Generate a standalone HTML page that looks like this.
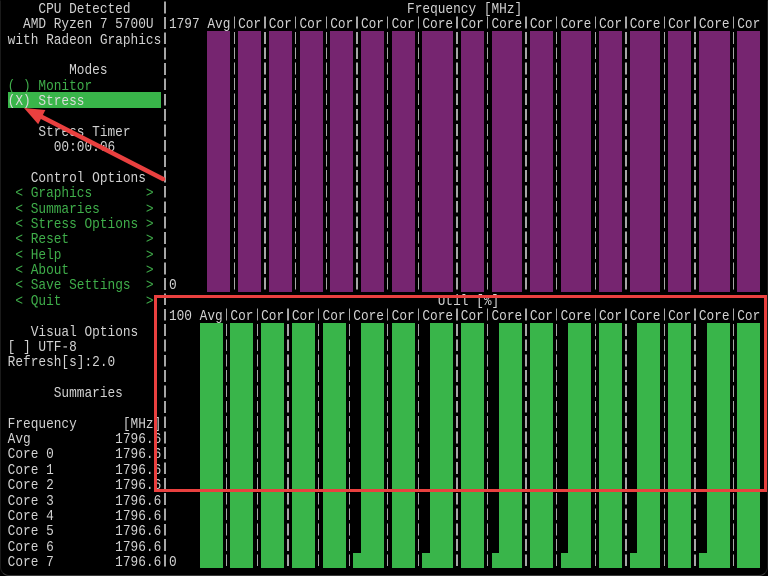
<!DOCTYPE html>
<html><head><meta charset="utf-8"><style>
html,body{margin:0;padding:0;background:#000;}
#s{position:relative;width:768px;height:576px;overflow:hidden;background:#000;}
.t{position:absolute;font-family:"Liberation Mono","DejaVu Sans Mono",monospace;font-size:12.8px;line-height:15.36px;height:15.36px;white-space:pre;color:#d2d2d2;transform-origin:0 0;transform:scaleY(1.18);}
.g{color:#3fae4a;}
.bp{position:absolute;background:#762570;top:30.72px;height:261.12px;}
.bg{position:absolute;background:#39b54a;top:322.56px;height:245.76px;}
.bgl{position:absolute;background:#39b54a;top:552.96px;height:15.36px;width:7.68px;}
.v{position:absolute;width:1.3px;background:repeating-linear-gradient(to bottom,transparent 0px,transparent 1.6px,#a6a6a6 1.6px,#a6a6a6 13.4px,transparent 13.4px,transparent 15.36px);}
.vf{top:15.36px;height:276.48px;}
.vu{top:307.2px;height:261.12px;}
</style></head><body><div id="s">

<!-- highlight bar -->
<div style="position:absolute;left:7.68px;top:92.16px;width:153.6px;height:15.36px;background:#39b54a;"></div>

<!-- frequency bars -->
<div class="bp" style="left:207.36px;width:23.04px"></div>
<div class="bp" style="left:238.08px;width:23.04px"></div>
<div class="bp" style="left:268.8px;width:23.04px"></div>
<div class="bp" style="left:299.52px;width:23.04px"></div>
<div class="bp" style="left:330.24px;width:23.04px"></div>
<div class="bp" style="left:360.96px;width:23.04px"></div>
<div class="bp" style="left:391.68px;width:23.04px"></div>
<div class="bp" style="left:422.4px;width:30.72px"></div>
<div class="bp" style="left:460.8px;width:23.04px"></div>
<div class="bp" style="left:491.52px;width:30.72px"></div>
<div class="bp" style="left:529.92px;width:23.04px"></div>
<div class="bp" style="left:560.64px;width:30.72px"></div>
<div class="bp" style="left:599.04px;width:23.04px"></div>
<div class="bp" style="left:629.76px;width:30.72px"></div>
<div class="bp" style="left:668.16px;width:23.04px"></div>
<div class="bp" style="left:698.88px;width:30.72px"></div>
<div class="bp" style="left:737.28px;width:23.04px"></div>

<!-- util bars -->
<div class="bg" style="left:199.68px;width:23.04px"></div>
<div class="bg" style="left:230.4px;width:23.04px"></div>
<div class="bg" style="left:261.12px;width:23.04px"></div>
<div class="bg" style="left:291.84px;width:23.04px"></div>
<div class="bg" style="left:322.56px;width:23.04px"></div>
<div class="bg" style="left:360.96px;width:23.04px"></div><div class="bgl" style="left:353.28px"></div>
<div class="bg" style="left:391.68px;width:23.04px"></div>
<div class="bg" style="left:430.08px;width:23.04px"></div><div class="bgl" style="left:422.4px"></div>
<div class="bg" style="left:460.8px;width:23.04px"></div>
<div class="bg" style="left:499.2px;width:23.04px"></div><div class="bgl" style="left:491.52px"></div>
<div class="bg" style="left:529.92px;width:23.04px"></div>
<div class="bg" style="left:568.32px;width:23.04px"></div><div class="bgl" style="left:560.64px"></div>
<div class="bg" style="left:599.04px;width:23.04px"></div>
<div class="bg" style="left:637.44px;width:23.04px"></div><div class="bgl" style="left:629.76px"></div>
<div class="bg" style="left:668.16px;width:23.04px"></div>
<div class="bg" style="left:706.56px;width:23.04px"></div><div class="bgl" style="left:698.88px"></div>
<div class="bg" style="left:737.28px;width:23.04px"></div>

<!-- axis line -->
<div class="v" style="left:164.47px;top:0;height:568.32px"></div>

<!-- freq separators -->
<div class="v vf" style="left:233.59px"></div>
<div class="v vf" style="left:264.31px"></div>
<div class="v vf" style="left:295.03px"></div>
<div class="v vf" style="left:325.75px"></div>
<div class="v vf" style="left:356.47px"></div>
<div class="v vf" style="left:387.19px"></div>
<div class="v vf" style="left:417.91px"></div>
<div class="v vf" style="left:456.31px"></div>
<div class="v vf" style="left:487.03px"></div>
<div class="v vf" style="left:525.43px"></div>
<div class="v vf" style="left:556.15px"></div>
<div class="v vf" style="left:594.55px"></div>
<div class="v vf" style="left:625.27px"></div>
<div class="v vf" style="left:663.67px"></div>
<div class="v vf" style="left:694.39px"></div>
<div class="v vf" style="left:732.79px"></div>

<!-- util separators -->
<div class="v vu" style="left:225.91px"></div>
<div class="v vu" style="left:256.63px"></div>
<div class="v vu" style="left:287.35px"></div>
<div class="v vu" style="left:318.07px"></div>
<div class="v vu" style="left:348.79px"></div>
<div class="v vu" style="left:387.19px"></div>
<div class="v vu" style="left:417.91px"></div>
<div class="v vu" style="left:456.31px"></div>
<div class="v vu" style="left:487.03px"></div>
<div class="v vu" style="left:525.43px"></div>
<div class="v vu" style="left:556.15px"></div>
<div class="v vu" style="left:594.55px"></div>
<div class="v vu" style="left:625.27px"></div>
<div class="v vu" style="left:663.67px"></div>
<div class="v vu" style="left:694.39px"></div>
<div class="v vu" style="left:732.79px"></div>

<!-- left panel text -->
<div class="t" style="left:38.4px;top:0px">CPU Detected</div>
<div class="t" style="left:23.04px;top:15.36px">AMD Ryzen 7 5700U</div>
<div class="t" style="left:7.68px;top:30.72px">with Radeon Graphics</div>
<div class="t" style="left:69.12px;top:61.44px">Modes</div>
<div class="t g" style="left:7.68px;top:76.8px">( ) Monitor</div>
<div class="t" style="left:7.68px;top:92.16px;color:#dcdcdc">(X) Stress</div>
<div class="t" style="left:38.4px;top:122.88px">Stress Timer</div>
<div class="t" style="left:53.76px;top:138.24px">00:00:06</div>
<div class="t" style="left:30.72px;top:168.96px">Control Options</div>
<div class="t g" style="left:15.36px;top:184.32px">&lt; Graphics       &gt;</div>
<div class="t g" style="left:15.36px;top:199.68px">&lt; Summaries      &gt;</div>
<div class="t g" style="left:15.36px;top:215.04px">&lt; Stress Options &gt;</div>
<div class="t g" style="left:15.36px;top:230.4px">&lt; Reset          &gt;</div>
<div class="t g" style="left:15.36px;top:245.76px">&lt; Help           &gt;</div>
<div class="t g" style="left:15.36px;top:261.12px">&lt; About          &gt;</div>
<div class="t g" style="left:15.36px;top:276.48px">&lt; Save Settings  &gt;</div>
<div class="t g" style="left:15.36px;top:291.84px">&lt; Quit           &gt;</div>
<div class="t" style="left:30.72px;top:322.56px">Visual Options</div>
<div class="t" style="left:7.68px;top:337.92px">[ ] UTF-8</div>
<div class="t" style="left:7.68px;top:353.28px">Refresh[s]:2.0</div>
<div class="t" style="left:53.76px;top:384px">Summaries</div>
<div class="t" style="left:7.68px;top:414.72px">Frequency      [MHz]</div>
<div class="t" style="left:7.68px;top:430.08px">Avg           1796.6</div>
<div class="t" style="left:7.68px;top:445.44px">Core 0        1796.6</div>
<div class="t" style="left:7.68px;top:460.8px">Core 1        1796.6</div>
<div class="t" style="left:7.68px;top:476.16px">Core 2        1796.6</div>
<div class="t" style="left:7.68px;top:491.52px">Core 3        1796.6</div>
<div class="t" style="left:7.68px;top:506.88px">Core 4        1796.6</div>
<div class="t" style="left:7.68px;top:522.24px">Core 5        1796.6</div>
<div class="t" style="left:7.68px;top:537.6px">Core 6        1796.6</div>
<div class="t" style="left:7.68px;top:552.96px">Core 7        1796.6</div>

<!-- chart text -->
<div class="t" style="left:407.04px;top:0px">Frequency [MHz]</div>
<div class="t" style="left:168.96px;top:15.36px">1797 Avg Cor Cor Cor Cor Cor Cor Core Cor Core Cor Core Cor Core Cor Core Cor</div>
<div class="t" style="left:168.96px;top:276.48px">0</div>
<div class="t" style="left:437.76px;top:291.84px">Util [%]</div>
<div class="t" style="left:168.96px;top:307.2px">100 Avg Cor Cor Cor Cor Core Cor Core Cor Core Cor Core Cor Core Cor Core Cor</div>
<div class="t" style="left:168.96px;top:552.96px">0</div>

<!-- red annotations -->
<div style="position:absolute;left:154px;top:295px;width:612.5px;height:196.7px;border:3px solid #e9403f;box-sizing:border-box;"></div>
<svg style="position:absolute;left:0;top:0" width="768" height="576" viewBox="0 0 768 576">
<line x1="163" y1="179" x2="40" y2="116" stroke="#e9403f" stroke-width="4.5" stroke-linecap="round"/>
<polygon points="24,108 45.4,110 38.2,124.2" fill="#e9403f"/>
</svg>

<!-- window corner -->
<div style="position:absolute;left:0;top:0;width:766px;height:574px;border:1px solid transparent;border-bottom-color:#3a3a3a;border-left-color:#1a1a1a;border-right-color:#1a1a1a;border-radius:0 0 9px 9px;pointer-events:none;"></div>
</div></body></html>
